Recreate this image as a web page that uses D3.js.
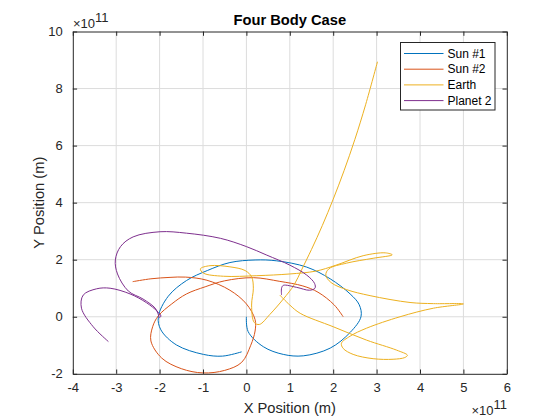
<!DOCTYPE html>
<html>
<head>
<meta charset="utf-8">
<script src="https://cdn.jsdelivr.net/npm/d3@7"></script>
<style>
  body { margin: 0; background: #fff; }
  svg { font-family: "Liberation Sans", Arial, Helvetica, sans-serif; }
</style>
</head>
<body>
<svg id="chart" width="560" height="420"></svg>
<script>
// positions in units of 1e11 m
var sun1 = [[0,0],[0.04,-0.52],[0.39,-1.05],[0.85,-1.32],[1.31,-1.37],[1.93,-1.1],[2.39,-0.55],
  [2.64,0],[2.6,0.42],[2.39,0.8],[1.93,1.33],[1.39,1.74],[0.7,1.96],[0.2,1.99],[-0.38,1.9],
  [-0.9,1.62],[-1.38,1.27],[-1.8,0.72],[-2.03,0],[-1.97,-0.46],[-1.61,-0.99],[-0.99,-1.32],
  [-0.55,-1.38],[-0.11,-1.23]];

var sun2 = [[-2.62,1.23],[-2.2,1.33],[-1.76,1.38],[-1.4,1.39],[-0.91,1.28],[-0.38,0.93],[0,0.45],
  [0.2,-0.1],[0.2,-0.5],[0.1,-1.0],[-0.11,-1.6],[-0.5,-1.88],[-1.0,-1.97],[-1.5,-1.82],
  [-1.95,-1.45],[-2.2,-0.85],[-2.16,-0.35],[-2.03,0.03],[-1.72,0.45],[-1.38,0.8],[-0.95,1.05],
  [-0.5,1.26],[0.16,1.37],[0.77,1.24],[1.3,1.08],[1.65,0.86],[2.02,0.42],[2.23,0]];

var earth = [[3.02,8.94],[2.75,7.45],[2.5,6.22],[2.25,5.12],[2.0,4.12],[1.75,3.2],[1.5,2.36],
  [1.27,1.64],[1.1,1.12],[0.85,0.62],[0.54,0.08],[0.3,-0.27],[0.18,-0.2],[0.12,0.41],[0.16,1.0],[0.12,1.4],
  [-0.03,1.62],[-0.38,1.75],[-0.84,1.79],[-1.06,1.68],[-0.99,1.53],[-0.53,1.42],[0.24,1.44],
  [1.0,1.5],[1.6,1.6],[2.05,1.8],[2.69,2.14],[3.2,2.24],[3.36,2.17],[2.92,2.05],[2.31,1.88],
  [1.9,1.68],[1.83,1.46],[1.95,1.2],[2.31,0.95],[2.85,0.74],[3.77,0.5],[4.31,0.46],[5.0,0.45],
  [4.31,0.3],[3.54,0.0],[2.77,-0.4],[2.39,-0.68],[2.19,-0.93],[2.23,-1.11],[2.46,-1.32],
  [2.92,-1.47],[3.38,-1.49],[3.65,-1.43],[3.71,-1.35],[3.46,-1.17],[2.77,-0.82],[2.0,-0.35],
  [1.24,0.12],[1.0,0.41],[0.77,0.76]];

var planet2 = [[-3.18,-0.87],[-3.53,-0.35],[-3.8,0.3],[-3.76,0.76],[-3.45,0.98],[-3.14,1.0],
  [-2.68,0.8],[-2.3,0.49],[-2.06,0.2],[-1.97,0.03],[-2.0,-0.03],[-2.04,0.12],[-2.1,0.3],
  [-2.38,0.62],[-2.72,0.9],[-2.97,1.5],[-3.02,1.99],[-2.9,2.46],[-2.61,2.8],[-1.99,2.98],
  [-1.38,2.93],[-0.6,2.75],[0,2.46],[0.47,2.16],[1.0,1.81],[1.39,1.46],[1.57,1.17],
  [1.58,1.0],[1.45,0.93],[1.16,1.03],[0.85,1.1],[0.81,1.0],[0.81,0.76]];

var seriesNames = ['Sun #1', 'Sun #2', 'Earth', 'Planet 2'];
var seriesData = [sun1, sun2, earth, planet2];
var seriesColors = ['#0072BD', '#D95319', '#EDB120', '#7E2F8E'];

var xTicks = [-4, -3, -2, -1, 0, 1, 2, 3, 4, 5, 6];
var yTicks = [-2, 0, 2, 4, 6, 8, 10];
var scaleExp = 11;

var svg = d3.select('#chart');
var axL = 72.8, axT = 31.5, axW = 434, axH = 342.3;

var x = d3.scaleLinear().domain([-4e11, 6e11]).range([axL, axL + axW]);
var y = d3.scaleLinear().domain([-2e11, 10e11]).range([axT + axH, axT]);
var unit = Math.pow(10, scaleExp);

// grid
var grid = svg.append('g').attr('stroke', '#dcdcdc').attr('stroke-width', 1);
grid.selectAll('.gx').data(xTicks.slice(1, -1)).enter().append('line')
  .attr('x1', function(d){ return x(d * unit); }).attr('x2', function(d){ return x(d * unit); })
  .attr('y1', axT).attr('y2', axT + axH);
grid.selectAll('.gy').data(yTicks.slice(1, -1)).enter().append('line')
  .attr('y1', function(d){ return y(d * unit); }).attr('y2', function(d){ return y(d * unit); })
  .attr('x1', axL).attr('x2', axL + axW);

// orbits
var line = d3.line()
  .x(function(d){ return x(d[0] * unit); })
  .y(function(d){ return y(d[1] * unit); })
  .curve(d3.curveCatmullRom.alpha(0.5));

var plot = svg.append('g');
seriesData.forEach(function(s, i) {
  plot.append('path')
    .attr('d', line(s))
    .attr('fill', 'none')
    .attr('stroke', seriesColors[i])
    .attr('stroke-width', 1);
});

// axes (ticks point inwards, box on)
var tl = 4.3;
var fmt = function(d){ return String(Math.round(d / unit)); };
var axBottom = d3.axisBottom(x).tickValues(xTicks.map(function(d){ return d * unit; }))
  .tickSizeInner(-tl).tickSizeOuter(0).tickPadding(9).tickFormat(fmt);
var axTop = d3.axisTop(x).tickValues(xTicks.map(function(d){ return d * unit; }))
  .tickSizeInner(-tl).tickSizeOuter(0).tickFormat('');
var axLeft = d3.axisLeft(y).tickValues(yTicks.map(function(d){ return d * unit; }))
  .tickSizeInner(-tl).tickSizeOuter(0).tickPadding(10).tickFormat(fmt);
var axRight = d3.axisRight(y).tickValues(yTicks.map(function(d){ return d * unit; }))
  .tickSizeInner(-tl).tickSizeOuter(0).tickFormat('');

function styleAxis(g) {
  g.select('.domain').attr('stroke', '#262626');
  g.selectAll('.tick line').attr('stroke', '#262626');
  g.selectAll('.tick text').attr('fill', '#262626').style('font-size', '13px')
    .style('font-family', '"Liberation Sans", Arial, sans-serif');
}

svg.append('g').attr('transform', 'translate(0,' + (axT + axH) + ')').call(axBottom).call(styleAxis);
svg.append('g').attr('transform', 'translate(0,' + axT + ')').call(axTop).call(styleAxis);
svg.append('g').attr('transform', 'translate(' + axL + ',0)').call(axLeft).call(styleAxis);
svg.append('g').attr('transform', 'translate(' + (axL + axW) + ',0)').call(axRight).call(styleAxis);

// exponent labels
function expLabel(px, py, anchor) {
  var t = svg.append('text').attr('x', px).attr('y', py).attr('text-anchor', anchor)
    .attr('fill', '#262626').style('font-size', '13px');
  t.append('tspan').text('\u00d710');
  t.append('tspan').attr('dy', -6).text(scaleExp);
}
expLabel(73, 28, 'start');
expLabel(507, 415, 'end');

// labels
svg.append('text').attr('x', axL + axW / 2).attr('y', 25).attr('text-anchor', 'middle')
  .style('font-size', '14.7px').style('font-weight', 'bold').attr('fill', '#000')
  .text('Four Body Case');
svg.append('text').attr('x', axL + axW / 2).attr('y', 413).attr('text-anchor', 'middle')
  .style('font-size', '14.7px').attr('fill', '#262626').text('X Position (m)');
svg.append('text').attr('transform', 'translate(44,' + (axT + axH / 2) + ') rotate(-90)')
  .attr('text-anchor', 'middle').style('font-size', '14.7px').attr('fill', '#262626')
  .text('Y Position (m)');

// legend
var lg = svg.append('g').attr('transform', 'translate(400.5,42.5)');
lg.append('rect').attr('width', 94.5).attr('height', 67.5)
  .attr('fill', '#fff').attr('stroke', '#262626').attr('stroke-width', 1);
seriesNames.forEach(function(name, i) {
  var ry = 11 + i * 15.7;
  lg.append('line').attr('x1', 3.5).attr('x2', 43).attr('y1', ry).attr('y2', ry)
    .attr('stroke', seriesColors[i]).attr('stroke-width', 1);
  lg.append('text').attr('x', 47).attr('y', ry + 4.2).style('font-size', '12px')
    .attr('fill', '#000').text(name);
});
</script>
</body>
</html>
